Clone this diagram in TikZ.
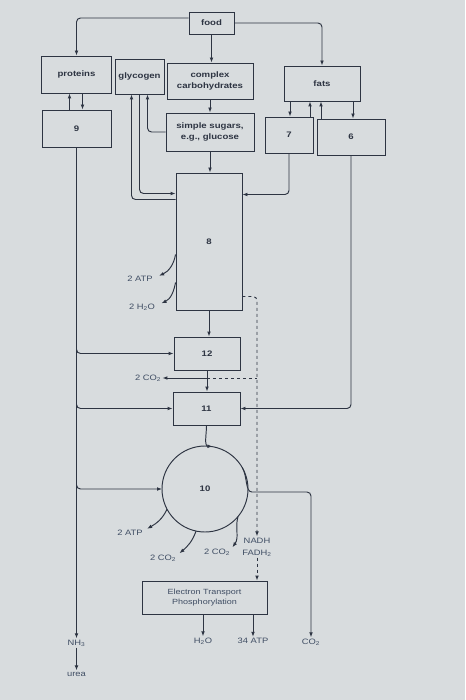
\documentclass[tikz,border=0pt]{standalone}
\usepackage{fontspec}
\setmainfont{Liberation Sans}[FakeStretch=1.2]
\usetikzlibrary{arrows.meta}
\definecolor{paper}{RGB}{216,220,222}
\definecolor{ink}{RGB}{45,52,66}
\definecolor{labelink}{RGB}{64,78,100}
\begin{document}
\begin{tikzpicture}[x=1pt,y=1pt, color=ink, line width=0.95pt,
  >={Latex[length=5pt,width=3.8pt]},
  box/.style={draw, align=center, inner sep=1pt, font=\bfseries\fontsize{8}{11}\selectfont},
  chem/.style={text=labelink, inner sep=1pt, font=\fontsize{7.8}{10}\selectfont},
  elbow/.style={rounded corners=4pt}]
\fill[paper] (0,0) rectangle (465,-700);
\useasboundingbox (0,0) rectangle (465,-700);
% boxes
\node[box, minimum width=45, minimum height=22] (food) at (211.5,-23) {food};
\node[box, minimum width=70, minimum height=37] (proteins) at (76.5,-74.5) {proteins};
\node[box, minimum width=49, minimum height=35] (glycogen) at (139.5,-76.5) {glycogen};
\node[box, minimum width=86, minimum height=36] (complex) at (210,-81) {complex\\carbohydrates};
\node[box, minimum width=76, minimum height=35] (fats) at (322,-83.5) {fats};
\node[box, minimum width=69, minimum height=37] (box9) at (76.5,-128.5) {9};
\node[box, minimum width=88, minimum height=38] (simple) at (210,-132) {simple sugars,\\e.g., glucose};
\node[box, minimum width=48, minimum height=36] (box7) at (289,-135) {7};
\node[box, minimum width=68, minimum height=36] (box6) at (351,-137) {6};
\node[box, minimum width=66, minimum height=137] (box8) at (209,-241.5) {8};
\node[box, minimum width=66, minimum height=33] (box12) at (207,-353.5) {12};
\node[box, minimum width=67, minimum height=33] (box11) at (206.5,-408.5) {11};
\node[box, circle, minimum size=86, inner sep=0pt, outer sep=0pt] (ten) at (205,-489) {10};
\node[box, minimum width=125, minimum height=33, text=labelink, font=\fontsize{7.5}{10.5}\selectfont] (et) at (204.5,-597.5) {Electron Transport\\Phosphorylation};
% labels
\node[chem] (atp1) at (140,-279) {2 ATP};
\node[chem] (hoh1) at (142,-307) {2 H\textsubscript{2}O};
\node[chem] (co2a) at (148,-378) {2 CO\textsubscript{2}};
\node[chem] (atp2) at (130,-533) {2 ATP};
\node[chem] (co2c) at (163,-558) {2 CO\textsubscript{2}};
\node[chem] (co2d) at (217,-552) {2 CO\textsubscript{2}};
\node[chem, align=center] (nadh) at (257,-547) {NADH\\[2pt]FADH\textsubscript{2}};
\node[chem] (hoh2) at (203,-641) {H\textsubscript{2}O};
\node[chem] (atp34) at (253,-641) {34 ATP};
\node[chem] (co2b) at (311,-642) {CO\textsubscript{2}};
\node[chem] (nh3) at (76.5,-643) {NH\textsubscript{3}};
\node[chem] (urea) at (76.5,-674) {urea};
\coordinate (split) at (207,-378);
\coordinate (exit) at (256,-492);
% food
\draw[->, elbow] ([yshift=5pt]food.west) -| (proteins.north);
\draw[->, elbow] (food.east) -| (fats.north);
\draw[->] (food.south) -- (food.south |- complex.north);
% proteins and 9
\draw[->] ([xshift=-7pt]box9.north) -- ([xshift=-7pt]proteins.south);
\draw[->] ([xshift=6pt]proteins.south) -- ([xshift=6pt]box9.north);
% sugars
\draw[->] (complex.south) -- (simple.north);
\draw[->] (simple.south) -- (simple.south |- box8.north);
\draw[->, elbow] (simple.west) -| ([xshift=8pt]glycogen.south);
\draw[->, elbow] (glycogen.south) |- ([yshift=48pt]box8.west);
\draw[->, elbow] ([yshift=42pt]box8.west) -| ([xshift=-8pt]glycogen.south);
% fats, 7 and 6
\draw[->] ([xshift=-32pt]fats.south) -- ([xshift=-32pt]fats.south |- box7.north);
\draw[->] ([xshift=21pt]box7.north) -- ([xshift=21pt]box7.north |- fats.south);
\draw[->] ([xshift=-30pt]box6.north) -- ([xshift=-30pt]box6.north |- fats.south);
\draw[->] ([xshift=31pt]fats.south) -- ([xshift=31pt]fats.south |- box6.north);
\draw[->, elbow] (box7.south) |- ([yshift=47pt]box8.east);
\draw[->, elbow] (box6.south) |- (box11.east);
% 9 down the left side
\draw[->] (box9.south) -- (nh3.north);
\draw[->, elbow] (box9.south) |- (box12.west);
\draw[->, elbow] (box9.south) |- (box11.west);
\draw[->, elbow] (box9.south) |- (ten.west);
\draw[->] (nh3.south) -- (urea.north);
% 8, 12, 11
\draw[->] ([yshift=-13pt]box8.west) to[out=-100, in=25] ([xshift=5pt,yshift=-1pt]atp1.north east);
\draw[->] ([yshift=-41pt]box8.west) to[out=-100, in=25] ([xshift=5pt,yshift=-1pt]hoh1.north east);
\draw[->] (box8.south) -- (box8.south |- box12.north);
\draw[->] (box12.south) -- (box12.south |- box11.north);
\draw[->] (split) -- (co2a.east);
\draw[dashed] (split) -- (split -| nadh.north);
\draw[->, dashed, elbow] ([yshift=-55pt]box8.east) -| (nadh.north);
\draw[->] (box11.south) to[out=-90, in=175] (ten.80);
% cycle 10
\draw[->, elbow] (ten.30) to[out=-60, in=180] (exit) -| (co2b.north);
\draw[->] (ten.208) to[out=-115, in=30] ([xshift=3pt]atp2.north east);
\draw[->] (ten.258) to[out=-110, in=40] ([xshift=2pt]co2c.north east);
\draw[->] (ten.320) to[out=-105, in=55] ([xshift=1pt]co2d.north east);
\draw[->, dashed] (nadh.south) -- (nadh.south |- et.north);
% electron transport
\draw[->] (et.south -| hoh2.north) -- (hoh2.north);
\draw[->] (et.south -| atp34.north) -- (atp34.north);
\end{tikzpicture}
\end{document}
